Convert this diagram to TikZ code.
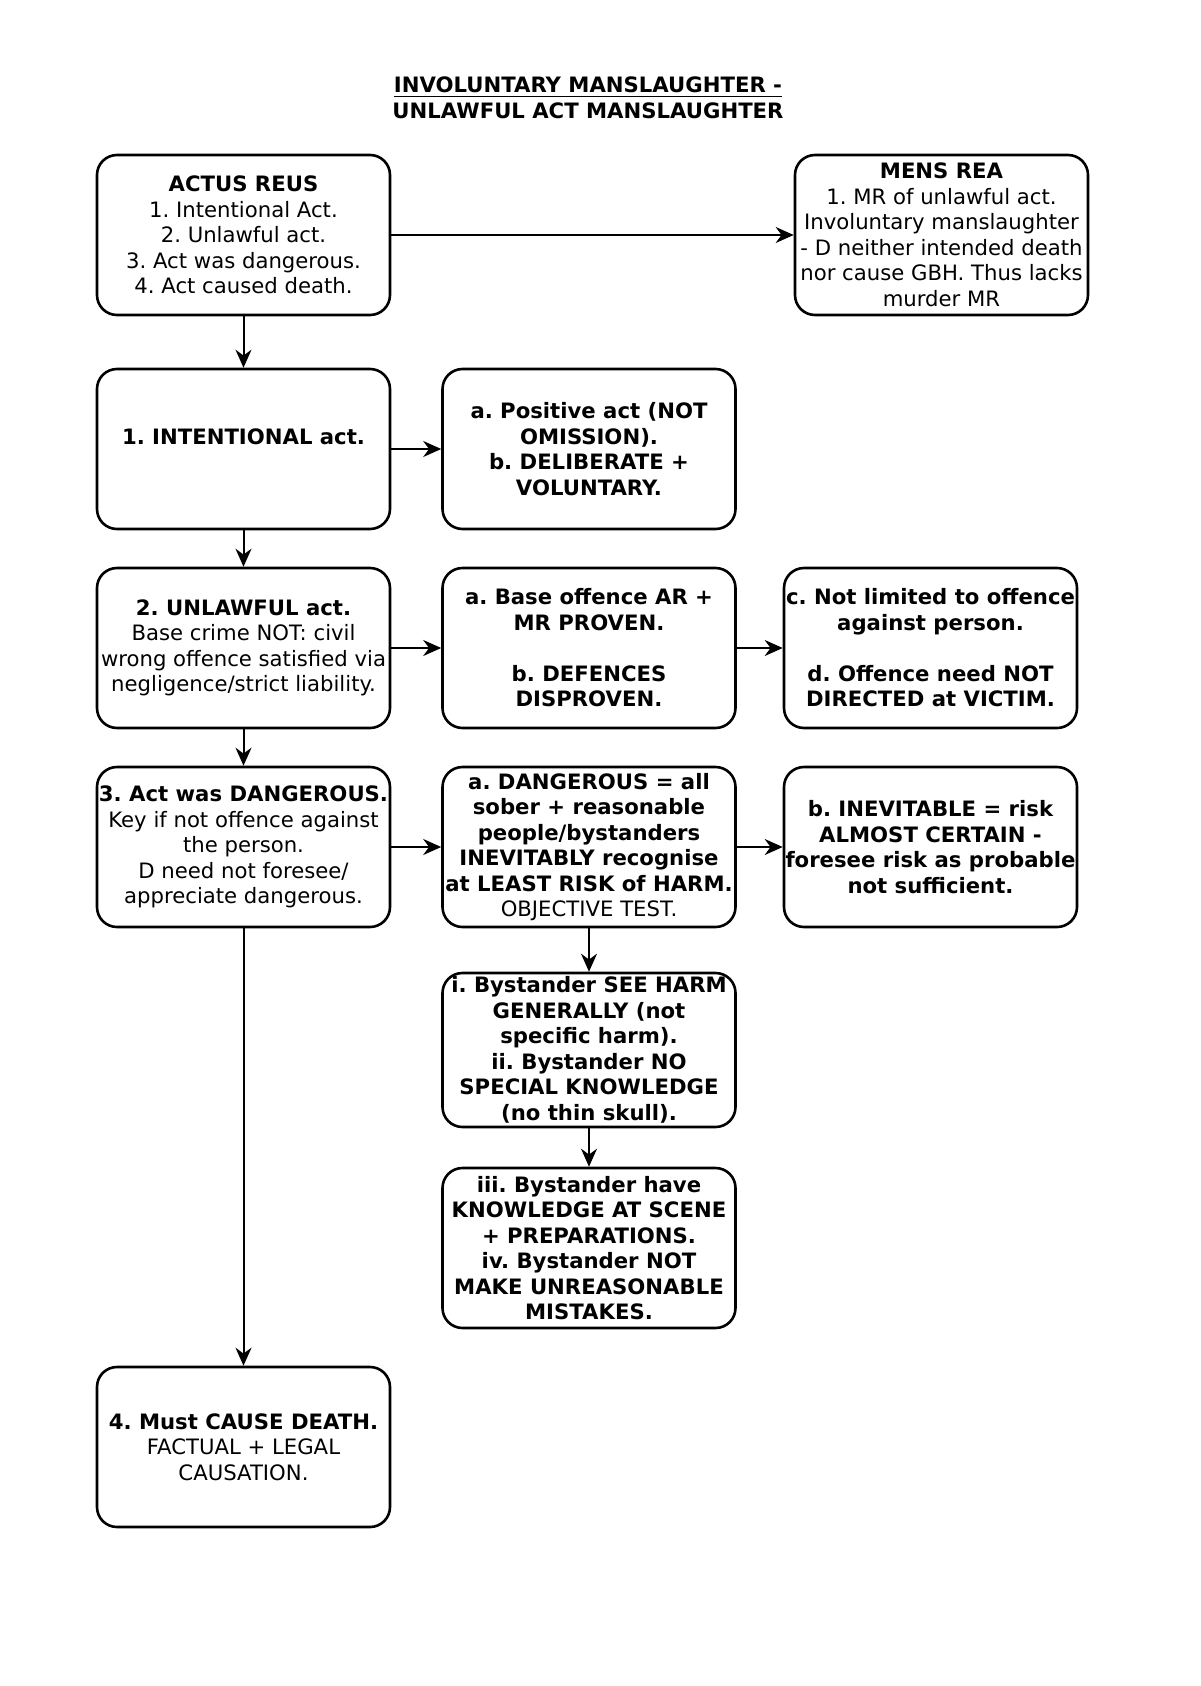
\documentclass[tikz,border=0pt]{standalone}
\usepackage{fontspec}
\setmainfont{DejaVu Sans}
\usetikzlibrary{arrows.meta}
\frenchspacing

\tikzset{
    box/.style={draw, line width=1.3pt, rounded corners=10pt, align=center,
        minimum width=146.5pt, minimum height=80pt, inner sep=0.5pt,
        font=\fontsize{10.6}{12.75}\selectfont},
    boldbox/.style={box, font=\fontsize{10.6}{12.75}\selectfont\bfseries},
    link/.style={line width=1pt, -{Stealth[length=9pt,width=8pt]}}
}

\begin{document}
\begin{tikzpicture}[x=0.5pt,y=-0.5pt]
    \useasboundingbox[fill=white] (0,0) rectangle (1200,1686);

    % Title
    \node[align=center, font=\fontsize{10.6}{12.75}\selectfont\bfseries] (title) at (588,98)
        {\underline{INVOLUNTARY MANSLAUGHTER -}\\UNLAWFUL ACT MANSLAUGHTER};

    % Top row
    \node[box] (actus) at (243.5,235) {\textbf{ACTUS REUS}\\1. Intentional Act.\\2. Unlawful act.\\3. Act was dangerous.\\4. Act caused death.};
    \node[box] (mens) at (941.5,235) {\textbf{MENS REA}\\1. MR of unlawful act.\\Involuntary manslaughter\\- D neither intended death\\nor cause GBH. Thus lacks\\murder MR};

    % 1. Intentional act
    \node[box] (intent) at (243.5,449) {\textbf{1. INTENTIONAL act.}\\\mbox{}};
    \node[boldbox] (positive) at (589,449) {a. Positive act (NOT\\OMISSION).\\b. DELIBERATE +\\VOLUNTARY.};

    % 2. Unlawful act
    \node[box] (unlawful) at (243.5,648) {\textbf{2. UNLAWFUL act.}\\Base crime NOT: civil\\wrong offence satisfied via\\negligence/strict liability.};
    \node[boldbox] (base) at (589,648) {a. Base offence AR +\\MR PROVEN.\\\mbox{}\\b. DEFENCES\\DISPROVEN.};
    \node[boldbox] (notlim) at (930.5,648) {c. Not limited to offence\\against person.\\\mbox{}\\d. Offence need NOT\\DIRECTED at VICTIM.};

    % 3. Dangerous
    \node[box] (danger) at (243.5,847) {\textbf{3. Act was DANGEROUS.}\\Key if not offence against\\the person.\\D need not foresee/\\appreciate dangerous.};
    \node[box] (dangdef) at (589,847) {\textbf{a. DANGEROUS = all}\\\textbf{sober + reasonable}\\\textbf{people/bystanders}\\\textbf{INEVITABLY recognise}\\\textbf{at LEAST RISK of HARM.}\\OBJECTIVE TEST.};
    \node[boldbox] (inevit) at (930.5,847) {b. INEVITABLE = risk\\ALMOST CERTAIN -\\foresee risk as probable\\not sufficient.};

    % Bystander tests
    \node[boldbox, minimum height=77pt] (seeharm) at (589,1050) {i. Bystander SEE HARM\\GENERALLY (not\\specific harm).\\ii. Bystander NO\\SPECIAL KNOWLEDGE\\(no thin skull).};
    \node[boldbox] (knowl) at (589,1248) {iii. Bystander have\\KNOWLEDGE AT SCENE\\+ PREPARATIONS.\\iv. Bystander NOT\\MAKE UNREASONABLE\\MISTAKES.};

    % 4. Cause death
    \node[box] (death) at (243.5,1447) {\textbf{4. Must CAUSE DEATH.}\\FACTUAL + LEGAL\\CAUSATION.};

    % Arrows
    \draw[link] (actus) -- (mens);
    \draw[link] (intent) -- (positive);
    \draw[link] (unlawful) -- (base);
    \draw[link] (base) -- (notlim);
    \draw[link] (danger) -- (dangdef);
    \draw[link] (dangdef) -- (inevit);
    \foreach \a/\b in {actus/intent, intent/unlawful, unlawful/danger, danger/death, dangdef/seeharm, seeharm/knowl}
        \draw[link] (\a) -- (\b);
\end{tikzpicture}
\end{document}
